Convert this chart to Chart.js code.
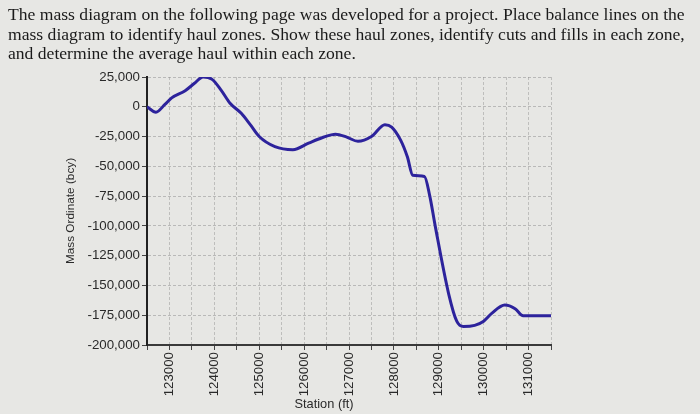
<!DOCTYPE html>
<html>
<head>
<meta charset="utf-8">
<script src="https://cdn.jsdelivr.net/npm/chart.js@4.4.0/dist/chart.umd.min.js"></script>
<style>
html, body { margin: 0; padding: 0; background: #e7e7e4; }
#wrap { position: relative; width: 700px; height: 414px; overflow: hidden; background: #e7e7e4; }
#txt {
    position: absolute; left: 8px; top: 5px; width: 692px;
    font-family: "Liberation Serif", "DejaVu Serif", serif;
    font-size: 17.6px; line-height: 19.5px; color: #1a1a1a;
}
#xTitle {
    position: absolute; left: 324px; top: 396px; transform: translateX(-50%);
    font-family: "Liberation Sans", sans-serif; font-size: 12.8px; color: #2a2a2a; white-space: nowrap;
}
#myChart { position: absolute; left: 0; top: 0; }
</style>
</head>
<body>
<div id="wrap">
    <canvas id="myChart" width="700" height="414"></canvas>
    <div id="txt">The mass diagram on the following page was developed for a project. Place balance lines on the<br>mass diagram to identify haul zones. Show these haul zones, identify cuts and fills in each zone,<br>and determine the average haul within each zone.</div>
    <div id="xTitle">Station (ft)</div>
</div>
<script>
// stations (ft) et ordonnees de masse (bcy)
var stations = [122500, 122700, 122900, 123050, 123350, 123550, 123750, 123950, 124150, 124350,
                124600, 124800, 125000, 125350, 125750, 126100, 126400, 126700, 126950, 127200,
                127500, 127800, 127950, 128150, 128300, 128420, 128680, 128800, 128920, 129220,
                129400, 129550, 129800, 130000, 130180, 130470, 130700, 130880, 131500];
var massOrdinate = [0, -4500, 2000, 7500, 13500, 19500, 25000, 23000, 14000, 3000,
                    -5500, -15000, -25000, -33500, -36000, -30500, -26000, -23000, -25500, -29000,
                    -25000, -15000, -17000, -28000, -42000, -57500, -58500, -75000, -100000, -157000,
                    -180000, -184500, -183500, -180000, -173500, -166500, -169500, -175500, -175500];

// graduations
var xTickValues = [123000, 124000, 125000, 126000, 127000, 128000, 129000, 130000, 131000];
var xGridValues = [122500, 123000, 123500, 124000, 124500, 125000, 125500, 126000, 126500, 127000,
                   127500, 128000, 128500, 129000, 129500, 130000, 130500, 131000, 131500];
var yTickValues = [25000, 0, -25000, -50000, -75000, -100000, -125000, -150000, -175000, -200000];
var yTickLabels = ['25,000', '0', '-25,000', '-50,000', '-75,000', '-100,000', '-125,000', '-150,000', '-175,000', '-200,000'];

var points = stations.map(function(s, i) { return { x: s, y: massOrdinate[i] }; });

var ctx = document.getElementById('myChart').getContext('2d');
var myChart = new Chart(ctx, {
    type: 'line',
    data: {
        datasets: [{
            label: 'Mass Ordinate',
            data: points,
            borderColor: '#2d239c',
            borderWidth: 3,
            pointRadius: 0,
            fill: false,
            cubicInterpolationMode: 'monotone'
        }]
    },
    options: {
        responsive: false,
        animation: false,
        layout: { padding: { left: 60, right: 149, top: 77, bottom: 0 } },
        plugins: {
            legend: { display: false },
            tooltip: { enabled: false }
        },
        scales: {
            x: {
                type: 'linear',
                min: 122500,
                max: 131500,
                afterBuildTicks: function(scale) {
                    scale.ticks = xGridValues.map(function(v) { return { value: v }; });
                },
                afterFit: function(scale) { scale.height = 69; },
                ticks: {
                    autoSkip: false,
                    minRotation: 90,
                    maxRotation: 90,
                    padding: 2,
                    color: '#2a2a2a',
                    font: { family: 'Liberation Sans', size: 13.3 },
                    callback: function(v) {
                        return xTickValues.indexOf(v) >= 0 ? String(v) : '';
                    }
                },
                grid: {
                    color: 'rgba(140,140,140,0.45)',
                    tickColor: '#444',
                    tickLength: 5
                },
                border: { display: true, color: '#3a3a3a', width: 2, dash: [3, 2] }
            },
            y: {
                min: -200000,
                max: 25000,
                afterBuildTicks: function(scale) {
                    scale.ticks = yTickValues.map(function(v) { return { value: v }; });
                },
                afterFit: function(scale) { scale.width = 87; },
                ticks: {
                    padding: 2,
                    color: '#2a2a2a',
                    font: { family: 'Liberation Sans', size: 13.3 },
                    callback: function(v) {
                        return yTickLabels[yTickValues.indexOf(v)];
                    }
                },
                grid: {
                    color: 'rgba(140,140,140,0.5)',
                    tickColor: '#444',
                    tickLength: 5
                },
                border: { display: true, color: '#222', width: 2, dash: [3, 2] },
                title: {
                    display: true,
                    text: 'Mass Ordinate (bcy)',
                    color: '#2a2a2a',
                    font: { family: 'Liberation Sans', size: 11.8 },
                    padding: { top: 4, bottom: 4 }
                }
            }
        }
    }
});
</script>
</body>
</html>
